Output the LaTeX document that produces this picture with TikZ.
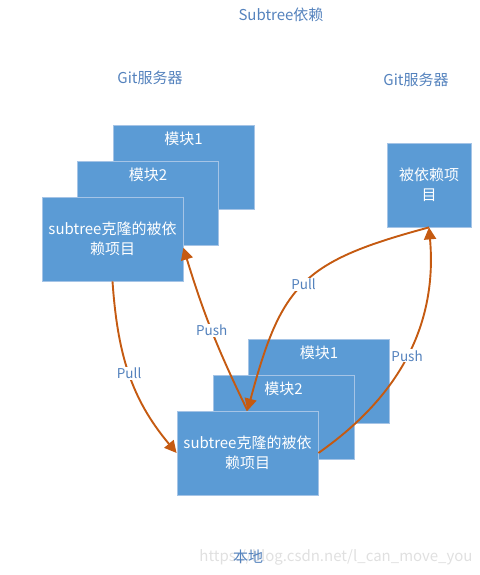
\documentclass[tikz,border=0pt]{standalone}
\usepackage{fontspec}
\setmainfont{Noto Sans CJK SC}
\usepackage{tikz}
\usetikzlibrary{arrows.meta}

\definecolor{boxblue}{RGB}{91,155,213}
\definecolor{boxedge}{RGB}{165,196,230}
\definecolor{linkorange}{RGB}{197,90,17}
\definecolor{captionblue}{RGB}{84,130,189}

\tikzset{
  block/.style={draw=boxedge, line width=0.8pt, fill=boxblue, text=white,
    minimum width=141pt, minimum height=84pt, inner sep=0pt, align=center,
    font=\fontsize{15}{20}\selectfont},
  modblock/.style={block, text height=20pt, text depth=64pt},
  caption/.style={text=captionblue, font=\fontsize{15}{18}\selectfont},
  link/.style={draw=linkorange, line width=1.9pt, -{Triangle[length=12pt, width=12pt]}},
  linklabel/.style={fill=white, text=captionblue, inner sep=1pt,
    font=\fontsize{13.5}{16}\selectfont}
}

\begin{document}
\begin{tikzpicture}[x=1pt, y=1pt]

  \useasboundingbox (0,0) rectangle (479,575);

  % Git server, clone stack
  \begin{scope}[xshift=112.5pt, yshift=336pt]
  \draw (71,72) node[name=srvmod1, modblock] {模块1};
  \draw (35.5,36) node[name=srvmod2, modblock] {模块2};
  \draw (0,0) node[name=srvsub, block] {subtree克隆的被依\\赖项目};
  \end{scope}

  % local stack
  \begin{scope}[xshift=247.5pt, yshift=122pt]
  \draw (71.5,72) node[name=locmod1, modblock] {模块1};
  \draw (36,36) node[name=locmod2, modblock] {模块2};
  \draw (0,0) node[name=locsub, block] {subtree克隆的被依\\赖项目};
  \end{scope}

  \draw (429,390) node[name=dep, block, minimum width=84pt] {被依赖项\\目};

  \draw (281,560) node[name=title, caption] {Subtree依赖};
  \draw (150,497) node[name=srvleft, caption] {Git服务器};
  \draw (416,495) node[name=srvright, caption] {Git服务器};
  \draw (336,18) node[name=mark, text=black!12, font=\fontsize{15}{18}\selectfont] {https://blog.csdn.net/l\_can\_move\_you};
  \draw (248,18) node[name=local, caption] {本地};

  \draw [link] (srvsub.south) to[out=-86, in=130] node[midway, linklabel] {Pull} (locsub.west);
  \draw [link] (locsub.north) to[out=116, in=-73] node[midway, linklabel] {Push} (srvsub.-7);
  \draw [link] (dep.south) to[out=195, in=75, looseness=1.3] node[midway, linklabel] {Pull} (locsub.north);
  \draw [link] (locsub.east) to[out=35, in=-85] node[midway, linklabel] {Push} (dep.south);

\end{tikzpicture}
\end{document}
